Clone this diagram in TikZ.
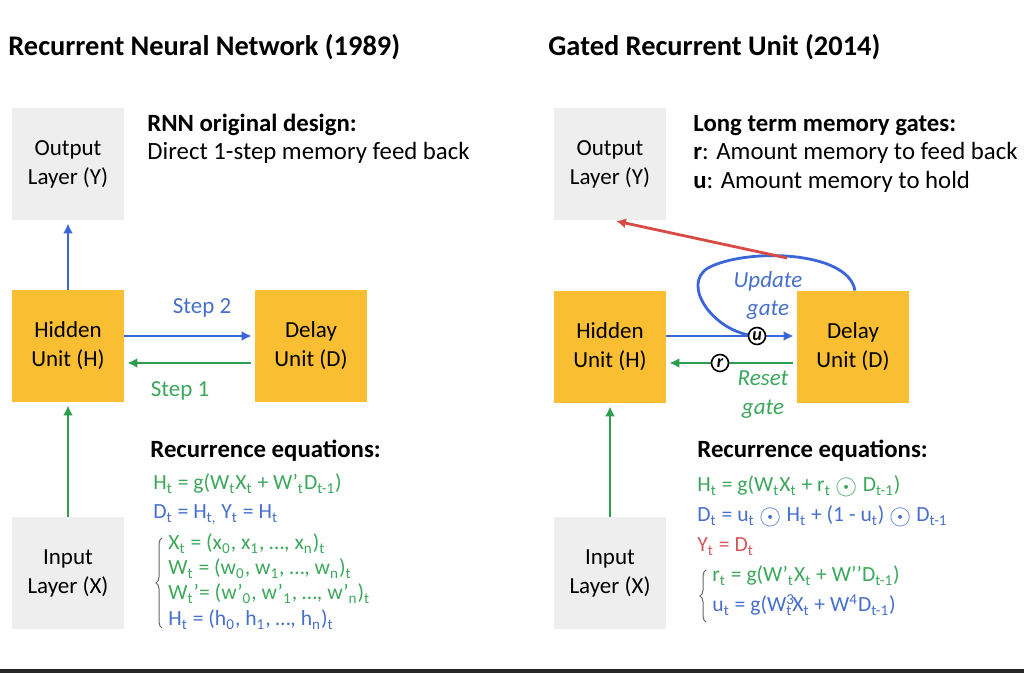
\documentclass[tikz,border=0pt]{standalone}
\usepackage{fontspec}
\setmainfont{Carlito}
\usepackage{amsmath, amssymb}
\usetikzlibrary{arrows.meta, positioning, decorations.pathreplacing}
\definecolor{boxgray}{HTML}{EEEEEE}
\definecolor{unitorange}{HTML}{F9BE32}
\definecolor{lineblue}{HTML}{3A66D8}
\definecolor{linegreen}{HTML}{2E9E4E}
\definecolor{linered}{HTML}{D84A44}
\definecolor{txtblue}{HTML}{4670CC}
\definecolor{txtgreen}{HTML}{3DA85C}
\definecolor{txtred}{HTML}{D4585A}
\newcommand{\sbs}[1]{\textsubscript{#1}}
\newcommand{\supsbs}[2]{\makebox[0pt][l]{\textsuperscript{#1}}\textsubscript{#2}}
\newcommand{\od}{\ \raisebox{-0.25ex}{\scalebox{1.3}{$\odot$}}\ }

\begin{document}
\begin{tikzpicture}[x=0.5pt, y=-0.5pt,
    iobox/.style={fill=boxgray, minimum width=56pt, minimum height=56pt,
        inner sep=0pt, align=center, font=\fontsize{11.5}{14.5}\selectfont},
    unitbox/.style={iobox, fill=unitorange},
    link/.style={line width=1.4pt, -{Latex[length=5pt, width=5pt]}, shorten >=1.5pt},
    head/.style={anchor=base west, inner sep=0pt, font=\fontsize{14.2}{16}\selectfont\bfseries},
    note/.style={anchor=base west, inner sep=0pt, font=\fontsize{12.4}{14}\selectfont},
    eq/.style={anchor=base west, inner sep=0pt, font=\fontsize{10.8}{12}\selectfont},
    lbl/.style={align=center, inner sep=0pt, font=\fontsize{11.5}{14}\selectfont},
    gatesym/.style={circle, draw, line width=0.8pt, fill=white, inner sep=0pt,
        minimum size=8.5pt, font=\fontsize{9}{9}\selectfont\bfseries\itshape},
    curly/.style={draw=black!60, line width=0.5pt, decorate,
        decoration={brace, amplitude=3pt}}
]
\fill[white] (0,0) rectangle (1024,673);
\useasboundingbox (0,0) rectangle (1024,673);
\fill[black!85] (0,669) rectangle (1024,673);

\node[head] (t1) at (8,56) {Recurrent Neural Network (1989)};
\node[head] (t2) at (548,56) {Gated Recurrent Unit (2014)};

\node[iobox] (y1) at (68,164) {Output\\Layer (Y)};
\node[unitbox] (h1) at (68,346) {Hidden\\Unit (H)};
\node[unitbox] (d1) at (311,346) {Delay\\Unit (D)};
\node[iobox] (x1) at (68,573) {Input\\Layer (X)};

\node[note] (n1) at (147,132) {\textbf{RNN original design:}};
\node[note] (n2) at (147,160) {Direct 1-step memory feed back};

\draw[link, lineblue] (h1) -- (y1);
\draw[link, lineblue] ([yshift=5pt]h1.east) -- ([yshift=5pt]d1.west);
\draw[link, linegreen, shorten <=2pt] ([yshift=-8.5pt]d1.west) -- ([yshift=-8.5pt]h1.east);
\draw[link, linegreen] (x1) -- (h1);
\node[lbl, txtblue] (s2) at (202,308) {Step 2};
\node[lbl, txtgreen] (s1) at (180,391) {Step 1};

\node[note] (e0) at (150,458) {\textbf{Recurrence equations:}};
\node[eq, txtgreen] (e1) at (153,490) {H\sbs{t} = g(W\sbs{t}X\sbs{t} + W’\sbs{t}D\sbs{t-1})};
\node[eq, txtblue] (e2) at (153,519) {D\sbs{t} = H\sbs{t,} Y\sbs{t} = H\sbs{t}};
\node[eq, txtgreen] (e3) at (168,550) {X\sbs{t} = (x\sbs{0}, x\sbs{1}, …, x\sbs{n})\sbs{t}};
\node[eq, txtgreen] (e4) at (168,575) {W\sbs{t} = (w\sbs{0}, w\sbs{1}, …, w\sbs{n})\sbs{t}};
\node[eq, txtgreen] (e5) at (168,600) {W\sbs{t}’= (w’\sbs{0}, w’\sbs{1}, …, w’\sbs{n})\sbs{t}};
\node[eq, txtblue] (e6) at (168,626) {H\sbs{t} = (h\sbs{0}, h\sbs{1}, …, h\sbs{n})\sbs{t}};
\draw[curly] (162,628) -- (162,538);

\node[iobox] (y2) at (610,164) {Output\\Layer (Y)};
\node[unitbox] (h2) at (610,347) {Hidden\\Unit (H)};
\node[unitbox] (d2) at (853,347) {Delay\\Unit (D)};
\node[iobox] (x2) at (610,573) {Input\\Layer (X)};

\node[note] (m1) at (693,132) {\textbf{Long term memory gates:}};
\node[note] (m2) at (693,160) {\textbf{r}: Amount memory to feed back};
\node[note] (m3) at (693,189) {\textbf{u}: Amount memory to hold};

\draw[link, lineblue] ([yshift=5.5pt]h2.east) -- ([yshift=5.5pt]d2.west);
\draw[link, linegreen, shorten <=2pt] ([yshift=-8pt]d2.west) -- ([yshift=-8pt]h2.east);
\draw[link, linegreen] (x2) -- (h2);
\draw[lineblue, line width=1.4pt] ([xshift=1pt]d2.north) .. controls (848,250) and (745,248) .. (708,268)
    .. controls (680,285) and (715,334) .. (757,336);
\coordinate (top) at (787,258);
\draw[link, linered] (top) -- ([xshift=1.5pt]y2.south);
\node[gatesym] (u) at (757,336) {u};
\node[gatesym] (r) at (720,363) {r};
\node[lbl, txtblue, font=\fontsize{11.5}{14}\selectfont\itshape] (ug) at (768,295) {Update\\gate};
\node[lbl, txtgreen, font=\fontsize{11.5}{14.5}\selectfont\itshape] (rg) at (763,395) {Reset\\gate};

\node[note] (f0) at (697,458) {\textbf{Recurrence equations:}};
\node[eq, txtgreen] (f1) at (697,492) {H\sbs{t} = g(W\sbs{t}X\sbs{t} + r\sbs{t}\od D\sbs{t-1})};
\node[eq, txtblue] (f2) at (697,522) {D\sbs{t} = u\sbs{t}\od H\sbs{t} + (1 - u\sbs{t})\od D\sbs{t-1}};
\node[eq, txtred] (f3) at (697,552) {Y\sbs{t} = D\sbs{t}};
\node[eq, txtgreen] (f4) at (712,582) {r\sbs{t} = g(W’\sbs{t}X\sbs{t} + W’’D\sbs{t-1})};
\node[eq, txtblue] (f5) at (712,612) {u\sbs{t} = g(W\supsbs{3}{t}X\sbs{t} + W\textsuperscript{4}D\sbs{t-1})};
\draw[curly] (706,622) -- (706,570);
\end{tikzpicture}
\end{document}
